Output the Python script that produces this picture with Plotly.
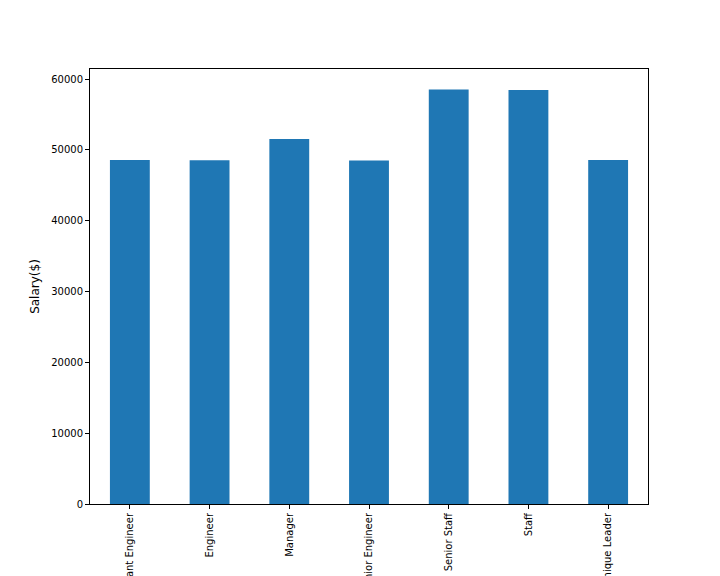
import plotly.graph_objects as go

titles = ["Assistant Engineer", "Engineer", "Manager", "Senior Engineer",
          "Senior Staff", "Staff", "Technique Leader"]
salaries = [48564, 48535, 51531, 48507, 58550, 58465, 48583]

fig = go.Figure(go.Bar(x=titles, y=salaries, width=0.5, marker_color="#1f77b4",
                       marker_line_width=0))

axis_style = dict(showline=True, linecolor="black", linewidth=1, mirror=True,
                  ticks="outside", ticklen=4, tickcolor="black", showgrid=False,
                  zeroline=False, tickfont=dict(family="DejaVu Sans", size=10, color="black"))

fig.update_layout(
    width=720, height=576,
    paper_bgcolor="white", plot_bgcolor="white",
    margin=dict(l=82, r=80, t=61, b=80),
    showlegend=False,
    xaxis=dict(tickangle=-90, range=[-0.5, 6.5], automargin=False, **axis_style),
    yaxis=dict(range=[0, 61430], dtick=10000, tickformat="d", automargin=False,
               title=dict(text="Salary($)", font=dict(family="DejaVu Sans", size=12, color="black"),
                          standoff=8),
               **axis_style),
)
fig.write_html("out.html")
